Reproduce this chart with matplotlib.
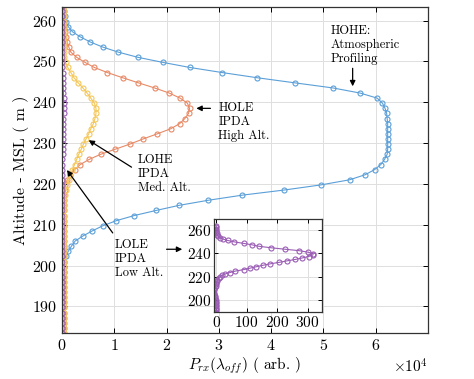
import numpy as np
import matplotlib
matplotlib.use("Agg")
import matplotlib.pyplot as plt

plt.rcParams['font.family'] = ['cmr10', 'DejaVu Serif']
plt.rcParams['mathtext.fontset'] = 'cm'
plt.rcParams['axes.formatter.use_mathtext'] = True

# altitude grid (m), 1.25 m steps
altitude = [183.5, 184.75, 186.0, 187.25, 188.5, 189.75, 191.0, 192.25, 193.5, 194.75,
            196.0, 197.25, 198.5, 199.75, 201.0, 202.25, 203.5, 204.75, 206.0, 207.25,
            208.5, 209.75, 211.0, 212.25, 213.5, 214.75, 216.0, 217.25, 218.5, 219.75,
            221.0, 222.25, 223.5, 224.75, 226.0, 227.25, 228.5, 229.75, 231.0, 232.25,
            233.5, 234.75, 236.0, 237.25, 238.5, 239.75, 241.0, 242.25, 243.5, 244.75,
            246.0, 247.25, 248.5, 249.75, 251.0, 252.25, 253.5, 254.75, 256.0, 257.25,
            258.5, 259.75, 261.0, 262.25, 263.5]

# received power, units of 1e4 (arb.)
hohe = [0.02, 0.02, 0.02, 0.02, 0.02, 0.02, 0.02, 0.02, 0.02, 0.02,
        0.02, 0.02, 0.03, 0.03, 0.04, 0.07, 0.12, 0.18, 0.25, 0.40,
        0.58, 0.78, 1.04, 1.38, 1.80, 2.24, 2.80, 3.45, 4.25, 4.95,
        5.50, 5.80, 5.98, 6.10, 6.17, 6.22, 6.23, 6.23, 6.23, 6.23,
        6.23, 6.23, 6.22, 6.21, 6.18, 6.13, 6.03, 5.70, 5.18, 4.45,
        3.73, 3.07, 2.45, 1.93, 1.45, 1.08, 0.78, 0.54, 0.35, 0.20,
        0.12, 0.07, 0.05, 0.03, 0.02]

hole = [0.04, 0.04, 0.04, 0.04, 0.04, 0.04, 0.04, 0.04, 0.04, 0.04,
        0.04, 0.04, 0.04, 0.04, 0.04, 0.04, 0.04, 0.04, 0.04, 0.04,
        0.04, 0.04, 0.04, 0.04, 0.04, 0.04, 0.04, 0.04, 0.05, 0.06,
        0.10, 0.16, 0.24, 0.35, 0.52, 0.74, 1.02, 1.30, 1.55, 1.82,
        2.08, 2.25, 2.35, 2.42, 2.44, 2.40, 2.26, 2.05, 1.77, 1.46,
        1.16, 0.87, 0.62, 0.44, 0.28, 0.17, 0.13, 0.10, 0.07, 0.05,
        0.04, 0.03, 0.02, 0.02, 0.02]

lohe = [0.03, 0.03, 0.03, 0.03, 0.03, 0.03, 0.03, 0.03, 0.03, 0.03,
        0.03, 0.03, 0.03, 0.03, 0.03, 0.03, 0.03, 0.03, 0.03, 0.03,
        0.03, 0.03, 0.03, 0.03, 0.03, 0.03, 0.04, 0.05, 0.08, 0.10,
        0.13, 0.16, 0.20, 0.24, 0.28, 0.32, 0.37, 0.41, 0.46, 0.51,
        0.55, 0.60, 0.63, 0.65, 0.65, 0.62, 0.55, 0.48, 0.40, 0.31,
        0.23, 0.17, 0.11, 0.07, 0.04, 0.03, 0.03, 0.03, 0.03, 0.03,
        0.03, 0.03, 0.03, 0.03, 0.03]

# LOLE in raw units (arb.)
lole = [0, 0, 0, 0, 0, 0, 0, 0, 0, 0,
        0, 0, -1, -2, -3, -4, -5, -6, -8, -9,
        -8, -6, -4, -2, 0, 1, 2, 4, 8, 12,
        18, 29, 45, 63, 90, 111, 132, 154, 178, 207,
        232, 260, 282, 303, 317, 318, 300, 272, 225, 180,
        140, 118, 90, 60, 38, 22, 12, 6, 3, 2,
        1, 0, 0, 0, 0]

c_hohe = '#5b9fd8'
c_hole = '#e88a66'
c_lohe = '#f5c75a'
c_lole = '#9a5cb4'

fig = plt.figure(figsize=(4.74, 3.79), dpi=100)
ax = fig.add_axes([0.1308, 0.1214, 0.772, 0.860])

mk = dict(marker='o', markersize=3.6, markerfacecolor='none', lw=0.8, markeredgewidth=0.8)
ax.plot(np.array(hohe) * 1e4, altitude, color=c_hohe, **mk)
ax.plot(np.array(hole) * 1e4, altitude, color=c_hole, **mk)
ax.plot(np.array(lohe) * 1e4, altitude, color=c_lohe, **mk)
ax.plot(lole, altitude, color=c_lole, **mk)

ax.set_xlim(0, 7e4)
ax.set_ylim(183.5, 263.3)
ax.set_xticks([0, 1e4, 2e4, 3e4, 4e4, 5e4, 6e4])
ax.set_yticks([190, 200, 210, 220, 230, 240, 250, 260])
ax.ticklabel_format(axis='x', style='sci', scilimits=(0, 0), useMathText=True)
ax.xaxis.get_offset_text().set_fontsize(11)
ax.grid(True, color='#dedede', lw=0.7)
ax.set_axisbelow(True)
ax.tick_params(direction='in', top=True, right=True, labelsize=11.5, length=3.5, width=0.7)
for s in ax.spines.values():
    s.set_color('#333333')
    s.set_linewidth(0.9)

ax.set_xlabel(r'$P_{rx}(\lambda_{off})$ ( arb. )', fontsize=11, labelpad=2)
ax.set_ylabel('Altitude - MSL ( m )', fontsize=11.5, labelpad=2)

arr = dict(arrowstyle='-|>', color='k', lw=0.9, mutation_scale=8, shrinkA=0, shrinkB=0)
fs = 9
ax.text(5.14e4, 259.0, 'HOHE:\nAtmospheric\nProfiling', fontsize=fs, va='top', ha='left', linespacing=1.2)
ax.annotate('', xy=(5.56e4, 243.9), xytext=(5.56e4, 248.3), arrowprops=arr)
ax.text(2.99e4, 240.0, 'HOLE\nIPDA\nHigh Alt.', fontsize=fs, va='top', ha='left', linespacing=1.2)
ax.annotate('', xy=(2.57e4, 238.5), xytext=(2.84e4, 238.5), arrowprops=arr)
ax.text(1.45e4, 227.3, 'LOHE\nIPDA\nMed. Alt.', fontsize=fs, va='top', ha='left', linespacing=1.2)
ax.annotate('', xy=(0.51e4, 230.7), xytext=(1.33e4, 224.1), arrowprops=arr)
ax.text(1.01e4, 206.5, 'LOLE\nIPDA\nLow Alt.', fontsize=fs, va='top', ha='left', linespacing=1.2)
ax.annotate('', xy=(0.095e4, 223.4), xytext=(0.97e4, 208.0), arrowprops=arr)
ax.annotate('', xy=(2.30e4, 204.0), xytext=(2.0e4, 204.0), arrowprops=arr)

# inset: LOLE on its own scale
axin = fig.add_axes([0.4515, 0.1768, 0.2278, 0.2454])
axin.plot(lole, altitude, color=c_lole, **mk)
axin.set_xlim(-7, 347)
axin.set_ylim(189.7, 269.4)
axin.set_xticks([0, 100, 200, 300])
axin.set_yticks([200, 220, 240, 260])
axin.grid(True, color='#dedede', lw=0.7)
axin.set_axisbelow(True)
axin.tick_params(direction='in', top=True, right=True, labelsize=11, length=3, width=0.7, pad=2)
for s in axin.spines.values():
    s.set_color('#333333')
    s.set_linewidth(0.9)

fig.savefig('out.png', dpi=100)
